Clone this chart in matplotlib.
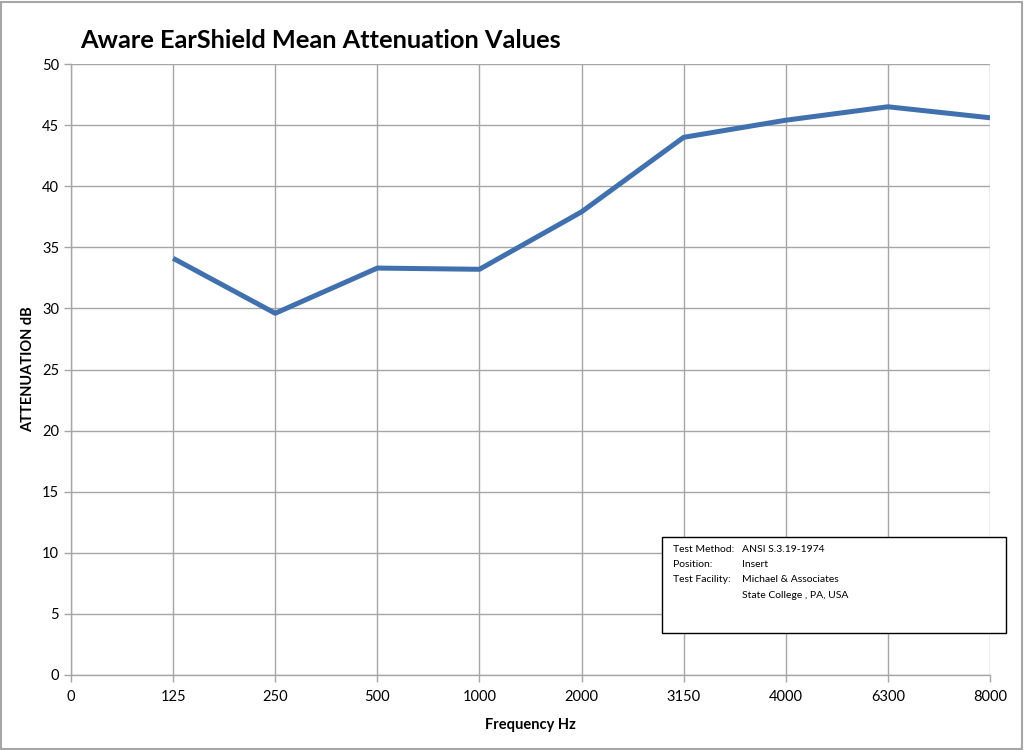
import matplotlib
matplotlib.use("Agg")
import matplotlib.pyplot as plt
from matplotlib.patches import Rectangle

plt.rcParams['font.family'] = ['Lato', 'DejaVu Sans']

categories = ["0", "125", "250", "500", "1000", "2000", "3150", "4000", "6300", "8000"]
freq_labels = categories[1:]
attenuation = [34.1, 29.6, 33.3, 33.2, 37.9, 44.0, 45.4, 46.5, 45.6]
y_ticks = [0, 5, 10, 15, 20, 25, 30, 35, 40, 45, 50]

fig = plt.figure(figsize=(10.24, 7.5), dpi=100)
fig.patches.append(Rectangle((0.001, 0.001), 0.997, 0.997, transform=fig.transFigure,
                             fill=False, edgecolor='#a6a6a6', linewidth=1.5))
ax = fig.add_axes([71/1024, 0.1, (990-71)/1024, (675-64)/750])

xpos = [categories.index(c) for c in freq_labels]
ax.plot(xpos, attenuation, color='#4170AE', linewidth=3.6, solid_capstyle='butt', zorder=3)

ax.set_xlim(0, len(categories) - 1)
ax.set_ylim(0, 50)
ax.set_xticks(range(len(categories)))
ax.set_xticklabels(categories)
ax.set_yticks(y_ticks)
ax.grid(True, color='#a6a6a6', linewidth=1.0)
for s in ['top', 'right']:
    ax.spines[s].set_visible(False)
for s in ['left', 'bottom']:
    ax.spines[s].set_color('#a6a6a6')
    ax.spines[s].set_linewidth(1.0)
ax.tick_params(axis='both', colors='#a6a6a6', labelcolor='black', labelsize=10.5, length=5, width=1)
ax.tick_params(axis='x', pad=6)

ax.set_xlabel('Frequency Hz', fontsize=10.5, fontweight='bold', labelpad=10)
ax.set_ylabel('ATTENUATION dB', fontsize=10.5, fontweight='bold', labelpad=5)
fig.text(80/1024, 1 - 40/750, 'Aware EarShield Mean Attenuation Values', fontsize=18.3,
         fontweight='bold', va='center', ha='left')

# info box
bx0, bx1 = 662/1024, 1006/1024
by0, by1 = 1 - 633/750, 1 - 537/750
fig.patches.append(Rectangle((bx0, by0), bx1 - bx0, by1 - by0, transform=fig.transFigure,
                             facecolor='white', edgecolor='black', linewidth=1.0, zorder=5))
lines = [("Test Method:", "ANSI S.3.19-1974"),
         ("Position:", "Insert"),
         ("Test Facility:", "Michael & Associates"),
         ("", "State College , PA, USA")]
for i, (k, v) in enumerate(lines):
    y = 1 - (549 + i*15.5)/750
    if k:
        fig.text(673/1024, y, k, fontsize=7.5, va='center', ha='left', zorder=6)
    fig.text(742/1024, y, v, fontsize=7.5, va='center', ha='left', zorder=6)

fig.savefig('out.png', dpi=100)
